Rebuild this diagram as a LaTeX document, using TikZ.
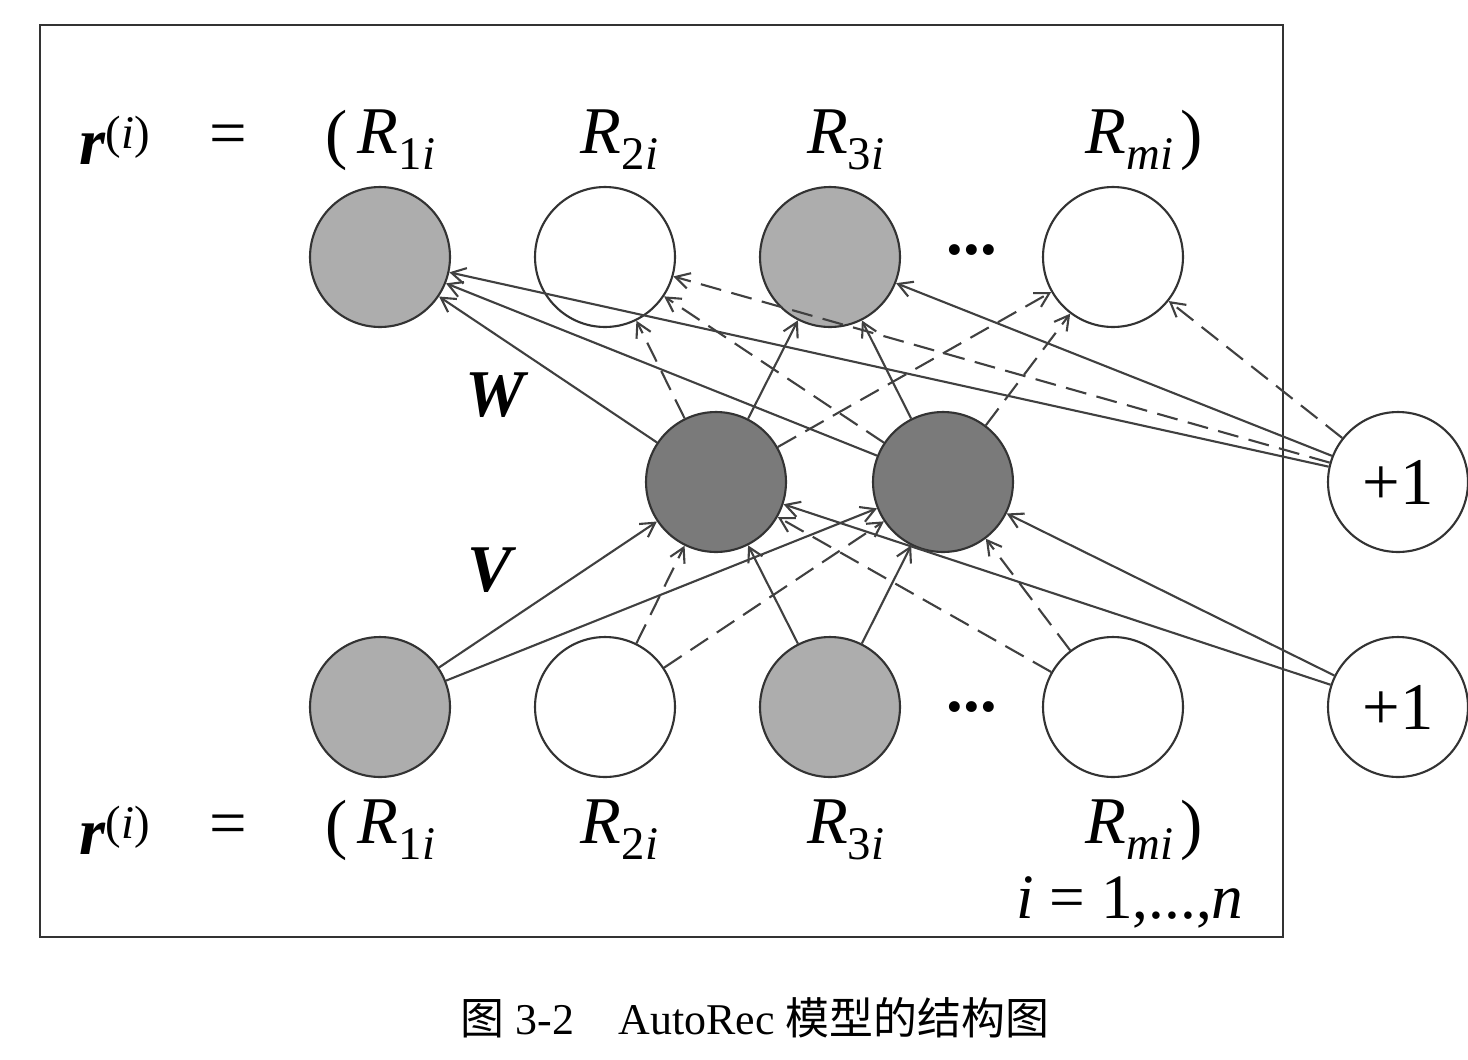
\documentclass[tikz,border=0pt]{standalone}
\usepackage{fontspec}
\setmainfont{Liberation Serif}
\newfontfamily\cjk{Noto Sans CJK SC}
\usetikzlibrary{arrows.meta}
\begin{document}
\begin{tikzpicture}[x=0.02cm,y=-0.02cm,
  nd/.style={circle,draw=black!80,line width=1.2pt,minimum size=2.8cm,inner sep=0pt},
  lg/.style={nd,fill=black!32},
  dk/.style={nd,fill=black!52},
  wh/.style={nd,fill=white},
  sol/.style={draw=black!75,line width=1.2pt,-{Straight Barb[length=8pt,width=9pt]}},
  dsh/.style={sol,dash pattern=on 12pt off 6pt},
  lbl/.style={font=\fontsize{38}{40}\selectfont,inner sep=0pt,anchor=center}]
\useasboundingbox (0,0) rectangle (1468,1059);
\draw[black!80,line width=1.5pt] (40,25) rectangle (1283,937);
\node[lg] (t1) at (380,257) {};
\node[wh] (t2) at (605,257) {};
\node[lg] (t3) at (830,257) {};
\node[wh] (tm) at (1113,257) {};
\node[lbl] (td) at (972,250) {\bfseries ...};
\node[dk] (h1) at (716,482) {};
\node[dk] (h2) at (943,482) {};
\node[lg] (b1) at (380,707) {};
\node[wh] (b2) at (605,707) {};
\node[lg] (b3) at (830,707) {};
\node[wh] (bm) at (1113,707) {};
\node[lbl] (bd) at (972,707) {\bfseries ...};
\node[wh,lbl] (p1) at (1398,482) {+1};
\node[wh,lbl] (p2) at (1398,707) {+1};
% labels
\newcommand\Rs[1]{\itshape R\textsubscript{\upshape #1\itshape i}}
\newcommand\Rm{\itshape R\textsubscript{\itshape mi}}
\newcommand\rv{{\bfseries\itshape r}\textsuperscript{(\itshape i\upshape)}}
\foreach \y/\n in {140/a,830/b}{
  \node[lbl] (r\n) at (115,\y) {\rv};
  \node[lbl] (e\n) at (228,\y) {=};
  \node[lbl] (o\n) at (337,\y) {(};
  \node[lbl] (x\n) at (397,\y) {\Rs{1}};
  \node[lbl] (y\n) at (620,\y) {\Rs{2}};
  \node[lbl] (z\n) at (846,\y) {\Rs{3}};
  \node[lbl] (m\n) at (1130,\y) {\Rm};
  \node[lbl] (c\n) at (1192,\y) {)};
}
\node[lbl] (W) at (495,395) {\bfseries\itshape W};
\node[lbl] (V) at (490,570) {\bfseries\itshape V};
\node[lbl,font=\fontsize{36}{38}\selectfont] (in) at (1130,902) {\itshape i\upshape\ = 1,...,\itshape n};
\node[inner sep=0pt,font=\fontsize{25}{27}\selectfont] (cap) at (755,1018) {{\cjk 图} 3-2\quad AutoRec {\cjk 模型的结构图}};
% edges
\foreach \s in {b1,b3,p2}{\draw[sol] (\s) -- (h1); \draw[sol] (\s) -- (h2);}
\foreach \s in {b2,bm}{\draw[dsh] (\s) -- (h1); \draw[dsh] (\s) -- (h2);}
\foreach \s in {h1,h2,p1}{\draw[sol] (\s) -- (t1); \draw[sol] (\s) -- (t3);
  \draw[dsh] (\s) -- (t2); \draw[dsh] (\s) -- (tm);}
\end{tikzpicture}
\end{document}
